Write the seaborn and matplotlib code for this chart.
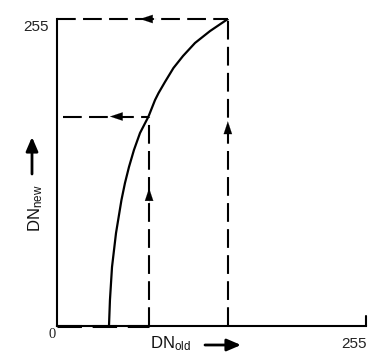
import matplotlib
matplotlib.use("Agg")
import matplotlib.pyplot as plt
import seaborn as sns
import pandas as pd

# ---- data ----
dn_old = [42.9, 43.7, 45.4, 48.7, 53.2, 56.1, 59.4, 63.5, 68.5, 75.5, 80.9,
          83.8, 89.1, 96.1, 104.0, 113.9, 126.3, 141.0]
dn_new = [0, 21.6, 49.0, 77.2, 104.7, 118.8, 132.1, 146.2, 160.3, 174.0, 187.7,
          193.5, 202.7, 214.3, 224.3, 235.1, 245.0, 255.0]

# mapping examples (input DN -> output DN)
map_in = [76, 141]
map_out = [174, 255]

axis_max = 255
tick_labels = ["0", "255"]

sns.set_theme(style="white")
plt.rcParams["font.family"] = ["Liberation Sans", "DejaVu Sans"]
plt.rcParams["mathtext.fontset"] = "custom"
plt.rcParams["mathtext.rm"] = "Liberation Sans"
plt.rcParams["mathtext.it"] = "Liberation Sans:italic"
plt.rcParams["mathtext.sf"] = "Liberation Sans"

fig = plt.figure(figsize=(3.81, 3.60), dpi=100)
ax = fig.add_axes([57 / 381, 1 - 326 / 360, (366 - 57) / 381, (326 - 19) / 360])

df = pd.DataFrame({"old": dn_old, "new": dn_new})
sns.lineplot(data=df, x="old", y="new", ax=ax, color="black", lw=1.6,
             sort=False, estimator=None)
ax.lines[-1].set_solid_joinstyle("round")

ax.set_xlim(0, axis_max)
ax.set_ylim(0, axis_max)
ax.set_xticks([])
ax.set_yticks([])
ax.set_xlabel("")
ax.set_ylabel("")
for s in ["top", "right"]:
    ax.spines[s].set_visible(False)
for s in ["left", "bottom"]:
    ax.spines[s].set_color("black")
    ax.spines[s].set_linewidth(1.5)

dash = dict(color="black", lw=1.5, dashes=(9, 3.5), clip_on=False)
# vertical dashed lines from the x-axis up to the curve
for xi, yi in zip(map_in, map_out):
    ax.plot([xi, xi], [0, yi], **dash)
# horizontal dashed lines from the curve to the y-axis
ax.plot([5, map_in[0]], [map_out[0], map_out[0]], **dash)
ax.plot([0, map_in[1]], [map_out[1], map_out[1]], **dash)
# dashed overlay along the x-axis
ax.plot([0, map_in[0]], [0, 0], color="black", lw=2.2, dashes=(8, 3.5), clip_on=False)

# small end tick at right of x-axis
ax.plot([axis_max, axis_max], [0, 8], color="black", lw=1.5, clip_on=False)

ap = dict(arrowstyle="-|>,head_length=0.9,head_width=0.3", color="black", lw=0.1,
          shrinkA=0, shrinkB=0, mutation_scale=10)
# arrowheads on the dashed lines
ax.annotate("", xy=(68.5, 255), xytext=(82, 255), arrowprops=ap, annotation_clip=False)
ax.annotate("", xy=(43.7, 174), xytext=(57, 174), arrowprops=ap)
ax.annotate("", xy=(76, 114.5), xytext=(76, 101), arrowprops=ap)
ax.annotate("", xy=(141, 170), xytext=(141, 157), arrowprops=ap)

# tick labels
fig.text(52.5 / 381, 1 - 334 / 360, tick_labels[0], family="Liberation Serif",
         fontsize=10.5, ha="center", va="center", color="#222222")
fig.text(367 / 381, 1 - 348 / 360, tick_labels[1], fontsize=11,
         ha="right", va="baseline", color="#222222")
fig.text(49 / 381, 1 - 31 / 360, tick_labels[1], fontsize=11,
         ha="right", va="baseline", color="#222222")

# axis labels
fig.text(150 / 381, 1 - 348 / 360, r"DN$_{\mathrm{old}}$", fontsize=12,
         ha="left", va="baseline", color="#111111")
fig.text(40 / 381, 1 - 232 / 360, r"DN$_{\mathrm{new}}$", fontsize=12,
         ha="left", va="baseline", rotation=90, rotation_mode="anchor",
         color="#111111")

# direction arrows beside the labels
ap2 = dict(arrowstyle="-|>,head_length=0.7,head_width=0.3", color="black", lw=2,
           shrinkA=0, shrinkB=0, mutation_scale=12)
ax.annotate("", xy=(241, 360 - 345), xytext=(205, 360 - 345),
            xycoords="figure pixels", textcoords="figure pixels", arrowprops=ap2)
ax.annotate("", xy=(32, 360 - 137), xytext=(32, 360 - 174),
            xycoords="figure pixels", textcoords="figure pixels", arrowprops=ap2)

fig.savefig("out.png", dpi=100)
